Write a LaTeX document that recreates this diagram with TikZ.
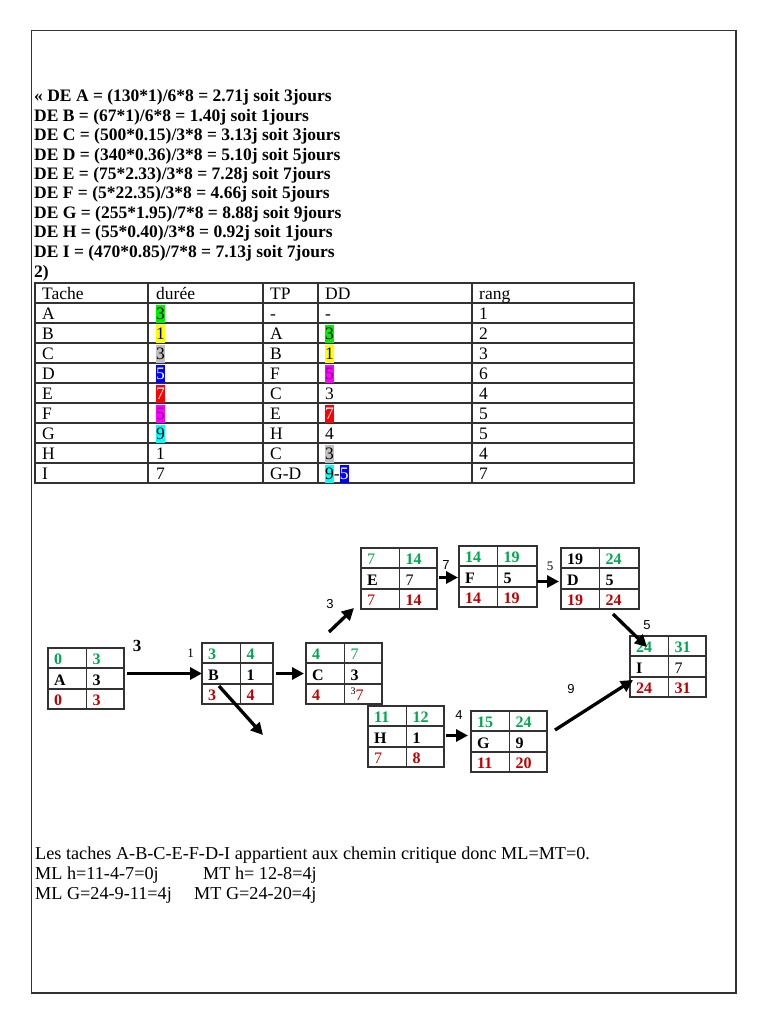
\documentclass[tikz,border=0pt]{standalone}
\usepackage{fontspec}
\setmainfont{Liberation Serif}
\newfontfamily\lsans{Liberation Sans}
\usetikzlibrary{arrows.meta,calc}
\definecolor{cgreen}{RGB}{0,168,80}
\definecolor{cred}{RGB}{192,0,0}
\definecolor{lin}{RGB}{50,50,50}
\definecolor{hgreen}{RGB}{0,240,0}
\definecolor{hyellow}{RGB}{255,255,0}
\definecolor{hgray}{RGB}{192,192,192}
\definecolor{hblue}{RGB}{0,0,255}
\definecolor{hred}{RGB}{255,0,0}
\definecolor{hmag}{RGB}{255,0,255}
\definecolor{hcyan}{RGB}{0,255,255}
\definecolor{hpurp}{RGB}{128,0,128}
\newcommand\hlt[3][black]{{\setlength{\fboxsep}{0pt}\colorbox{#2}{\rule[-3.5pt]{0pt}{18pt}\textcolor{#1}{#3}}}}
\newcommand\cgb[1]{\textcolor{cgreen}{\bfseries #1}}
\newcommand\cgn[1]{\textcolor{cgreen}{#1}}
\newcommand\crb[1]{\textcolor{cred}{\bfseries #1}}
\newcommand\crn[1]{\textcolor{cred}{#1}}
\newcommand\ckb[1]{{\bfseries #1}}
\newcommand\fsT{\fontsize{17.5}{20}\selectfont}
\newcommand\fsB{\fontsize{18.2}{20}\selectfont}
\newcommand\tbox[9]{%
\node[tbx, minimum width=#3, anchor=north west] (#1) at #2 {};
\draw[tln] ([yshift=-20pt]#1.north west) -- ([yshift=-20pt]#1.north east);
\draw[tln] ([yshift=-41pt]#1.north west) -- ([yshift=-41pt]#1.north east);
\draw[tln] ([xshift=38.5pt]#1.north west) -- ([xshift=38.5pt]#1.south west);
\node[btx] (#1-1) at ([xshift=6pt,yshift=-16pt]#1.north west) {#4};
\node[btx] (#1-2) at ([xshift=44.5pt,yshift=-16pt]#1.north west) {#5};
\node[btx] (#1-3) at ([xshift=6pt,yshift=-37pt]#1.north west) {#6};
\node[btx] (#1-4) at ([xshift=44.5pt,yshift=-37pt]#1.north west) {#7};
\node[btx] (#1-5) at ([xshift=6pt,yshift=-57pt]#1.north west) {#8};
\node[btx] (#1-6) at ([xshift=44.5pt,yshift=-57pt]#1.north west) {#9};
}
\tikzset{
 toptxt/.style={anchor=base west, inner sep=0pt, font=\fsT\bfseries},
 tc/.style={anchor=base west, inner sep=0pt, font=\fsT},
 bt/.style={anchor=base west, inner sep=0pt, font=\fsB},
 tbl/.style={draw=lin, line width=1.1pt},
 tbx/.style={draw=lin, line width=1.1pt, minimum height=61pt, inner sep=0pt, outer sep=0pt},
 tln/.style={draw=lin, line width=1.1pt},
 btx/.style={anchor=base west, inner sep=0pt, font=\fontsize{16}{16}\selectfont},
 arr/.style={line width=3.3pt, -{Triangle[length=12pt,width=12pt]}},
 lbls/.style={inner sep=0pt, font=\fontsize{13}{13}\selectfont},
 lblsans/.style={inner sep=0pt, font=\lsans\fontsize{13}{13}\selectfont},
}
\begin{document}
\begin{tikzpicture}[x=1pt,y=-1pt]
\useasboundingbox (0,0) rectangle (768,1024);
\fill[white] (0,0) rectangle (768,1024);
\draw[lin, line width=1.5pt] (31.5,30.5) rectangle (736,993);
% top text
\node[toptxt] (t0) at (34,101.7) {« DE A = (130*1)/6*8 = 2.71j soit 3jours};
\node[toptxt] (t1) at (34,121.15) {DE B = (67*1)/6*8 = 1.40j soit 1jours};
\node[toptxt] (t2) at (34,140.6) {DE C = (500*0.15)/3*8 = 3.13j soit 3jours};
\node[toptxt] (t3) at (34,160.05) {DE D = (340*0.36)/3*8 = 5.10j soit 5jours};
\node[toptxt] (t4) at (34,179.5) {DE E = (75*2.33)/3*8 = 7.28j soit 7jours};
\node[toptxt] (t5) at (34,198.95) {DE F = (5*22.35)/3*8 = 4.66j soit 5jours};
\node[toptxt] (t6) at (34,218.4) {DE G = (255*1.95)/7*8 = 8.88j soit 9jours};
\node[toptxt] (t7) at (34,237.85) {DE H = (55*0.40)/3*8 = 0.92j soit 1jours};
\node[toptxt] (t8) at (34,257.3) {DE I = (470*0.85)/7*8 = 7.13j soit 7jours};
\node[toptxt] (t9) at (34,277.5) {2)};
% table
\draw[tbl] (35,283) rectangle (634,483);
\foreach \yy in {303,323,...,463} {\draw[tbl] (35,\yy) -- (634,\yy);}
\foreach \xx in {148,263,318,472} {\draw[tbl] (\xx,283) -- (\xx,483);}
\foreach \ca/\cb/\cc/\cd/\ce [count=\i from 0] in {
Tache/durée/TP/DD/rang,
A/\hlt{hgreen}{3}/-/-/1,
B/\hlt{hyellow}{1}/A/\hlt{hgreen}{3}/2,
C/\hlt{hgray}{3}/B/\hlt{hyellow}{1}/3,
D/\hlt[white]{hblue}{5}/F/\hlt[hpurp]{hmag}{5}/6,
E/\hlt[white]{hred}{7}/C/3/4,
F/\hlt[hpurp]{hmag}{5}/E/\hlt[white]{hred}{7}/5,
G/\hlt{hcyan}{9}/H/4/5,
H/1/C/\hlt{hgray}{3}/4,
I/7/G-D/\hlt{hcyan}{9}-\hlt[white]{hblue}{5}/7}
{
\node[tc] (ta\i) at (42,299.5+20*\i) {\ca};
\node[tc] (tb\i) at (156,299.5+20*\i) {\cb};
\node[tc] (tcc\i) at (270,299.5+20*\i) {\cc};
\node[tc] (td\i) at (325,299.5+20*\i) {\cd};
\node[tc] (te\i) at (479,299.5+20*\i) {\ce};
}
% network boxes
\tbox{bA}{(48,648)}{76pt}{\cgb{0}}{\cgb{3}}{\ckb{A}}{\ckb{3}}{\crb{0}}{\crb{3}}
\tbox{bB}{(202,643)}{71pt}{\cgb{3}}{\cgb{4}}{\ckb{B}}{\ckb{1}}{\crb{3}}{\crb{4}}
\tbox{bC}{(306,643)}{76pt}{\cgb{4}}{\cgn{7}}{\ckb{C}}{\ckb{3}}{\crb{4}}{\raisebox{6pt}{\fontsize{10}{10}\selectfont 3}\crn{7}}
\tbox{bE}{(361,548)}{76pt}{\cgn{7}}{\cgb{14}}{\ckb{E}}{7}{\crn{7}}{\crb{14}}
\tbox{bF}{(459,546)}{78pt}{\cgb{14}}{\cgb{19}}{\ckb{F}}{\ckb{5}}{\crb{14}}{\crb{19}}
\tbox{bD}{(561,548)}{78pt}{\ckb{19}}{\cgb{24}}{\ckb{D}}{\ckb{5}}{\crb{19}}{\crb{24}}
\tbox{bI}{(630,636)}{76pt}{\cgb{24}}{\cgb{31}}{\ckb{I}}{7}{\crb{24}}{\crb{31}}
\tbox{bH}{(368,706)}{76pt}{\cgb{11}}{\cgb{12}}{\ckb{H}}{\ckb{1}}{\crn{7}}{\crb{8}}
\tbox{bG}{(471,711)}{76pt}{\cgb{15}}{\cgb{24}}{\ckb{G}}{\ckb{9}}{\crb{11}}{\crb{20}}
% arrows
\coordinate (bOut) at (263,735);
\draw[arr, shorten <=3pt] (bA.east |- bB.west) -- (bB.west);
\draw[arr, shorten <=3pt, shorten >=2pt] (bB.east) -- (bC.west);
\draw[arr] ($(bB.south west)+(17,-18)$) -- (bOut);
\draw[arr] ($(bC.north west)+(23,-11)$) -- ($(bE.south west)+(-7,-1)$);
\draw[arr, shorten <=2pt, shorten >=1pt] ($(bE.east)+(0,-1)$) -- ($(bE.east -| bF.west)+(0,-1)$);
\draw[arr] ($(bF.east)+(0,5)$) -- ($(bF.east -| bD.west)+(-2,5)$);
\draw[arr] ($(bD.south west)+(52,5)$) -- ($(bI.north west)+(17,11)$);
\draw[arr] ($(bG.north east)+(8,19)$) -- ($(bI.north west)+(3,44)$);
\draw[arr] ($(bH.east)+(2,-1)$) -- ($(bH.east -| bG.west)+(-3,-1)$);
% labels
\node[inner sep=0pt, font=\fontsize{17}{17}\selectfont\bfseries] (lAB) at (137,646) {3};
\node[lbls] (lB) at (190.5,653) {1};
\node[lblsans] (lCE) at (330,604) {3};
\node[lblsans] (lEF) at (446,565) {7};
\node[lbls] (lFD) at (550,566) {5};
\node[lblsans] (lDI) at (647,625) {5};
\node[lblsans] (lGI) at (571,689) {9};
\node[lblsans] (lHG) at (459,715) {4};
% bottom text
\node[bt] (b1) at (35,859) {Les taches A-B-C-E-F-D-I appartient aux chemin critique donc ML=MT=0.};
\node[bt] (b2) at (35,879) {ML h=11-4-7=0j};
\node[bt] (b2b) at (203,879) {MT h= 12-8=4j};
\node[bt] (b3) at (35,899) {ML G=24-9-11=4j};
\node[bt] (b3b) at (194,899) {MT G=24-20=4j};
\end{tikzpicture}
\end{document}
